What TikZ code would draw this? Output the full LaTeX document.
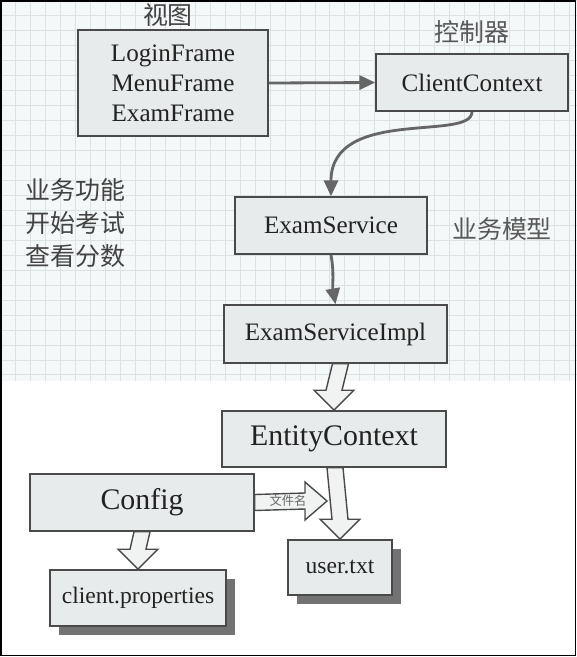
\documentclass[tikz,border=0pt]{standalone}
\usepackage{fontspec}
\setmainfont{Liberation Serif}
\newfontfamily\cjk{Noto Sans CJK SC}
\usetikzlibrary{shapes,arrows.meta,calc,shadows}

\definecolor{boxfill}{HTML}{E8EBEB}
\definecolor{boxline}{HTML}{4A4A4A}
\definecolor{linkgray}{HTML}{666666}
\definecolor{gridbg}{HTML}{F4F8F8}
\definecolor{gridln}{HTML}{DCE2E2}
\definecolor{textdark}{HTML}{222222}

% hollow block arrows: start point, tip
\newcommand{\fatdown}[2]{%
  \draw[fatarrow] ($#1+(-8,0)$) -- ($#2+(-8,-20)$) -- ($#2+(-20,-20)$) -- #2
    -- ($#2+(20,-20)$) -- ($#2+(8,-20)$) -- ($#1+(8,0)$) -- cycle;}
\newcommand{\fatright}[2]{%
  \draw[fatarrow] ($#1+(0,-8)$) -- ($#2+(-22,-8)$) -- ($#2+(-22,-19)$) -- #2
    -- ($#2+(-22,19)$) -- ($#2+(-22,8)$) -- ($#1+(0,8)$) -- cycle;}

\begin{document}
\begin{tikzpicture}[x=0.02cm, y=-0.02cm,
    box/.style={rectangle, draw=boxline, line width=0.9pt, fill=boxfill, text=textdark,
      inner sep=0pt, font=\fontsize{14.3}{17}\selectfont},
    bigbox/.style={box, font=\fontsize{17}{20}\selectfont},
    filebox/.style={box, font=\fontsize{13.4}{16}\selectfont,
      drop shadow={shadow xshift=0.18cm, shadow yshift=-0.18cm, fill=black!55, opacity=1}},
    cjklbl/.style={text=textdark!85, inner sep=0pt, font=\cjk\fontsize{14.2}{18.7}\selectfont},
    link/.style={draw=linkgray, line width=1.6pt, -{Triangle[length=9pt,width=8pt]}},
    fatarrow/.style={draw=boxline, line width=0.8pt, fill=boxfill!60!white, line join=miter}]
    \useasboundingbox (0,0) rectangle (577,657);

    % grid paper in the upper part
    \fill[gridbg] (0,0) rectangle (577,381);
    \draw[gridln, line width=0.5pt, step=0.3cm] (0,0) grid (577,381);

    % boxes
    \node[box, minimum width=3.8cm, minimum height=2.12cm, align=center] (views) at (173,83) {LoginFrame\\MenuFrame\\ExamFrame};
    \node[box, minimum width=3.84cm, minimum height=1.14cm] (cc) at (472,82.5) {ClientContext};
    \node[box, minimum width=3.84cm, minimum height=1.14cm] (es) at (331,225.5) {ExamService};
    \node[box, minimum width=4.46cm, minimum height=1.16cm] (esi) at (335.5,334) {ExamServiceImpl};
    \node[bigbox, minimum width=4.48cm, minimum height=1.12cm] (ec) at (334,439) {EntityContext};
    \node[bigbox, minimum width=4.48cm, minimum height=1.14cm] (cfg) at (142,502.5) {Config};
    \node[filebox, minimum width=3.52cm, minimum height=1.12cm] (prop) at (138,598) {client.properties};
    \node[filebox, minimum width=2.08cm, minimum height=1.1cm] (user) at (340,567.5) {user.txt};

    % labels
    \node[cjklbl] (viewlbl) at (168,15) {视图};
    \node[cjklbl, text=textdark!75] (ctrllbl) at (472,32) {控制器};
    \node[cjklbl, text=textdark!75] (modellbl) at (502,229) {业务模型};
    \node[cjklbl, align=left, anchor=west] (funclbl) at (25,223) {业务功能\\开始考试\\查看分数};

    % links
    \draw[link] (views.east) -- (cc.west);
    \draw[link] (cc.south) .. controls +(0,30) and +(0,-90) .. (es.north);
    \draw[link] (es.south) to[out=-80,in=100] (esi.north);

    % block arrows
    \coordinate (esiout) at ($(esi.south)+(5,0)$);
    \fatdown{(esiout)}{(ec.north)}
    \coordinate (ecout) at ($(ec.south)+(1,0)$);
    \fatdown{(ecout)}{(user.north)}
    \fatdown{(cfg.south)}{(prop.north)}
    \coordinate (fname) at (327,501);
    \fatright{(cfg.east)}{(fname)}
    \node[font=\cjk\fontsize{7}{8}\selectfont, text=black!60, inner sep=0pt] (fnamelbl) at (288,501) {文件名};

    \draw[black, line width=1pt] (1,1) rectangle (575.5,655.5);
\end{tikzpicture}
\end{document}
